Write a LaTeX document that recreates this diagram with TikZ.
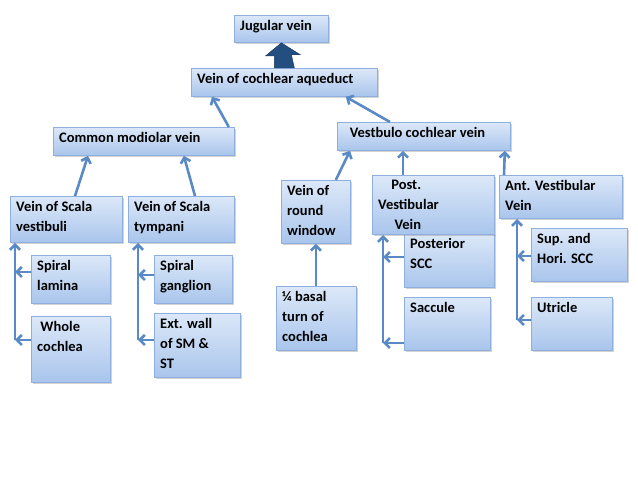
\documentclass[tikz,border=0pt]{standalone}
\usepackage{fontspec}
\setmainfont{Carlito}
\usetikzlibrary{shadows,arrows.meta}
\pgfdeclarelayer{fg}
\pgfsetlayers{main,fg}
\definecolor{bord}{HTML}{8FB0DE}
\definecolor{topc}{HTML}{DCE8F8}
\definecolor{botc}{HTML}{A9C5EC}
\definecolor{arr}{HTML}{5A8AC6}
\definecolor{big}{HTML}{254E80}
\tikzset{
 box/.style={draw=bord,line width=0.8pt,top color=topc,bottom color=botc,anchor=north west,inner sep=0pt,drop shadow={shadow xshift=1.5pt,shadow yshift=-1.5pt,opacity=0.35}},
 txt/.style={anchor=north west,inner sep=0pt,align=left,font=\bfseries\fontsize{14.5}{20}\selectfont},
 ar/.style={draw=arr,line width=2.6pt,-{Straight Barb[length=5pt,width=10pt]}}
}
\newcommand{\mybox}[6]{%
 \node[box,minimum width=#4-#2,minimum height=#5-#3] (#1) at (#2,#3) {};
 \begin{pgfonlayer}{fg}\node[txt] (#1t) at ([shift={(6,5)}]#1.north west) {#6};\end{pgfonlayer}}
\begin{document}
\begin{tikzpicture}[x=1pt,y=-1pt]
\useasboundingbox (0,0) rectangle (638,478);
\mybox{jug}{234}{15}{328}{42}{Jugular vein}
\mybox{aq}{191}{68}{377}{96}{Vein of cochlear aqueduct}
\mybox{mod}{53}{127}{234}{155}{Common modiolar vein}
\mybox{vc}{337}{122}{510}{150}{\ \ Vestbulo cochlear vein}
\mybox{sv}{10}{196}{122}{242}{Vein of Scala\\vestibuli}
\mybox{st}{128}{196}{234}{242}{Vein of Scala\\tympani}
\mybox{sl}{31}{255}{110}{303}{Spiral\\lamina}
\mybox{wc}{31}{316}{110}{382}{\ Whole\\cochlea}
\mybox{sg}{154}{255}{232}{303}{Spiral\\ganglion}
\mybox{ew}{154}{313}{240}{377}{Ext. wall\\of SM \&\\ST}
\mybox{rw}{281}{180}{350}{243}{Vein of\\round\\window}
\mybox{bt}{276}{286}{356}{350}{¼ basal\\turn of\\cochlea}
\mybox{ps}{404}{233}{494}{287}{Posterior\\SCC}
\mybox{sa}{404}{297}{490}{350}{Saccule}
\mybox{pv}{372}{175}{494}{234}{\ \ \ \ Post.\\Vestibular\\\ \ \ \ \ Vein}
\mybox{av}{499}{175}{622}{218}{Ant. Vestibular\\Vein}
\mybox{sh}{531}{228}{627}{281}{Sup. and\\Hori. SCC}
\mybox{ut}{531}{297}{612}{350}{Utricle}
% big arrow
\fill[big,draw=big!70!black] ([xshift=-10]aq.north) -- ++(0,-12) -- ++(-9,0) -- (jug.south) -- ++(19,12) -- ++(-9,0) -- ([xshift=10]aq.north) -- cycle;
% arrows
\draw[ar] ([xshift=-6]mod.north east) -- ([xshift=21]aq.south west);
\draw[ar] ([xshift=53]vc.north west) -- ([xshift=-32]aq.south east);
\draw[ar] ([xshift=65]sv.north west) -- ([xshift=35]mod.south west);
\draw[ar] ([xshift=67]st.north west) -- ([xshift=-51]mod.south east);
\draw[ar] ([xshift=-15]rw.north east) -- ([xshift=13]vc.south west);
\draw[ar] ([xshift=31]pv.north west) -- ([xshift=66]vc.south west);
\draw[ar] ([xshift=5]av.north west) -- ([xshift=-6]vc.south east);
\draw[ar] (bt.north -| rw.south) -- (rw.south);
% brackets
\coordinate (lb) at (15,340);
\draw[ar] (lb) -- (15,243);
\draw[ar] (sl.west |- 0,272) -- (15,272);
\draw[ar] (wc.west |- 0,340) -- (lb);
\coordinate (tb) at (138,340);
\draw[ar] (tb) -- (138,243);
\draw[ar] (sg.west |- 0,275) -- (138,275);
\draw[ar] (ew.west |- 0,340) -- (tb);
\coordinate (pb) at (383,343);
\draw[ar] (pb) -- (383,235);
\draw[ar] (ps.west |- 0,257) -- (383,257);
\draw[ar] (sa.west |- 0,343) -- (pb);
\coordinate (ab) at (517,320);
\draw[ar] (ab) -- (517,219);
\draw[ar] (sh.west |- 0,256) -- (517,256);
\draw[ar] (ut.west |- 0,320) -- (ab);
\end{tikzpicture}
\end{document}
